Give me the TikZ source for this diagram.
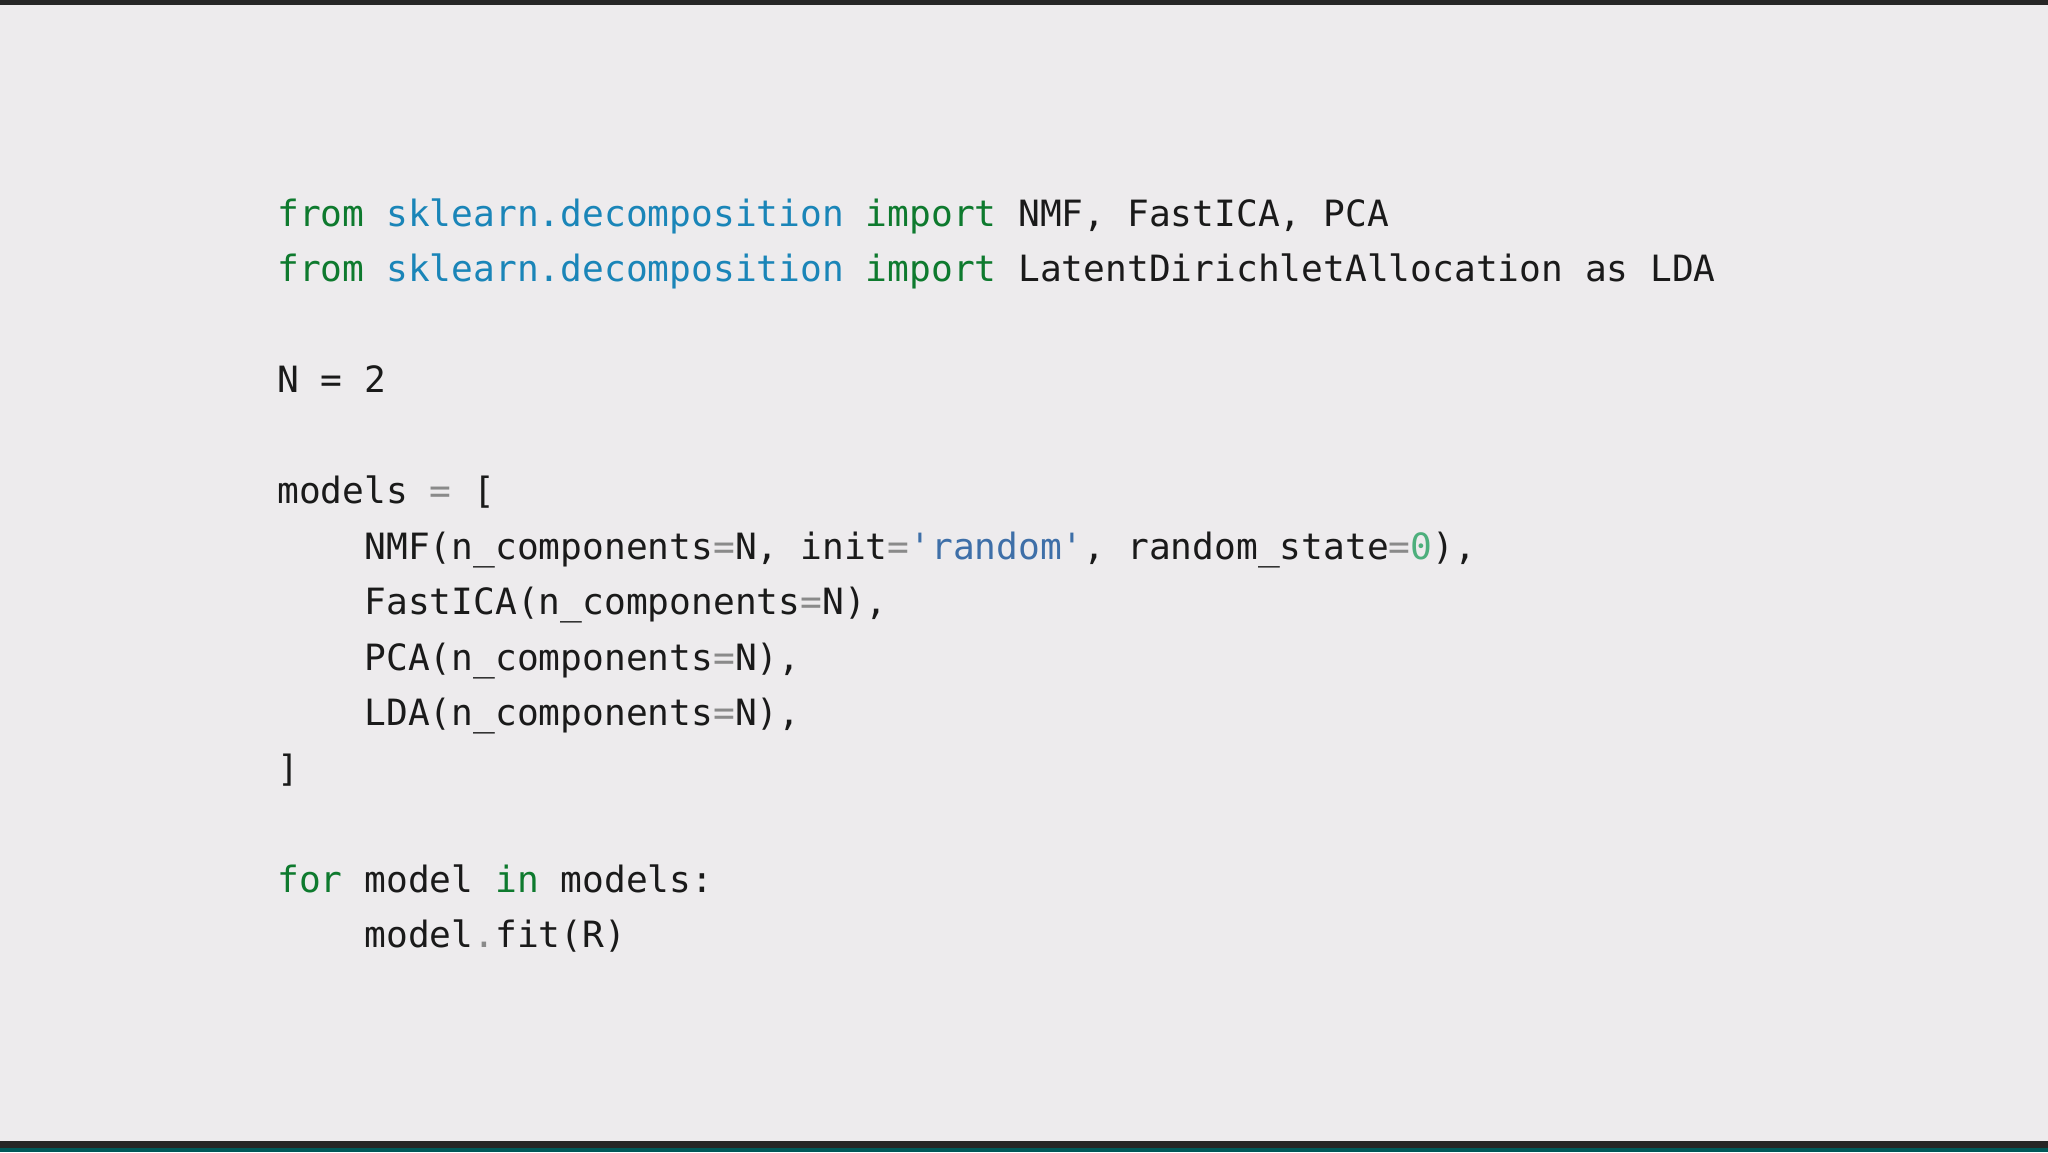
\documentclass[tikz,border=0pt]{standalone}
\usepackage{fontspec}
\newfontfamily\code{DejaVu Sans Mono}
\definecolor{bg}{HTML}{EDEBED}
\definecolor{kw}{HTML}{0E7A2E}
\definecolor{md}{HTML}{1A85B8}
\definecolor{st}{HTML}{3E6FA8}
\definecolor{nu}{HTML}{4DAF7C}
\definecolor{op}{HTML}{8A8A8A}
\definecolor{tx}{HTML}{1A1A1A}
\newcommand{\K}[1]{\textcolor{kw}{#1}}
\newcommand{\M}[1]{\textcolor{md}{#1}}
\newcommand{\Ss}[1]{\textcolor{st}{#1}}
\newcommand{\Nn}[1]{\textcolor{nu}{#1}}
\newcommand{\Oo}[1]{\textcolor{op}{#1}}
\tikzset{codeline/.style={anchor=base west,inner sep=0pt,font=\code\fontsize{18.1}{20}\selectfont,text=tx}}
\begin{document}
\begin{tikzpicture}[x=1pt,y=-1pt]
\fill[bg] (0,0) rectangle (1024,576);
\fill[black!85] (0,0) rectangle (1024,2.6);
\fill[black!85] (0,570.5) rectangle (1024,576);
\fill[teal!70!black] (0,574) rectangle (1024,576);
\def\L{27.75}
\node[codeline] (l0) at (138.5,113) {\K{from} \M{sklearn.decomposition} \K{import} NMF, FastICA, PCA};
\node[codeline] (l1) at (138.5,113+\L) {\K{from} \M{sklearn.decomposition} \K{import} LatentDirichletAllocation as LDA};
\node[codeline] (l3) at (138.5,113+3*\L) {N = 2};
\node[codeline] (l5) at (138.5,113+5*\L) {models \Oo{=} [};
\node[codeline] (l6) at (138.5,113+6*\L) {\phantom{xxxx}NMF(n\_components\Oo{=}N, init\Oo{=}\Ss{'random'}, random\_state\Oo{=}\Nn{0}),};
\node[codeline] (l7) at (138.5,113+7*\L) {\phantom{xxxx}FastICA(n\_components\Oo{=}N),};
\node[codeline] (l8) at (138.5,113+8*\L) {\phantom{xxxx}PCA(n\_components\Oo{=}N),};
\node[codeline] (l9) at (138.5,113+9*\L) {\phantom{xxxx}LDA(n\_components\Oo{=}N),};
\node[codeline] (l10) at (138.5,113+10*\L) {]};
\node[codeline] (l12) at (138.5,113+12*\L) {\K{for} model \K{in} models:};
\node[codeline] (l13) at (138.5,113+13*\L) {\phantom{xxxx}model\Oo{.}fit(R)};
\end{tikzpicture}
\end{document}
